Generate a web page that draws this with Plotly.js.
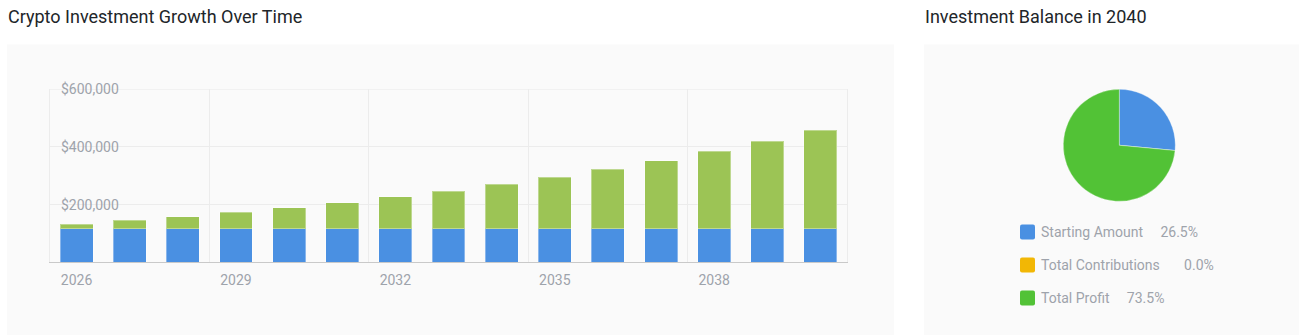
<!DOCTYPE html>
<html>
<head>
<meta charset="utf-8">
<script src="https://cdn.plot.ly/plotly-3.0.1.min.js"></script>
<style>
  html, body { margin: 0; padding: 0; background: #ffffff; }
  #chart { width: 1299px; height: 335px; }
</style>
</head>
<body>
<div id="chart"></div>
<script>
// ---- data ----
const years = ['2026','2027','2028','2029','2030','2031','2032','2033','2034','2035','2036','2037','2038','2039','2040'];
const startingAmount = [116500,116500,116500,116500,116500,116500,116500,116500,116500,116500,116500,116500,116500,116500,116500];
const totalProfit = [16300,29100,41700,56900,72900,90200,110000,130800,154000,178300,206000,235900,268500,304200,342300];
const yTickVals = [200000, 400000, 600000];
const yTickText = ['$200,000', '$400,000', '$600,000'];

const pieLabels = ['Starting Amount', 'Total Contributions', 'Total Profit'];
const pieShares = [26.5, 0.0, 73.5];

// ---- styling ----
const W = 1299, H = 335;
const FONT = 'Roboto, "Noto Sans", Arial, sans-serif';
const GREY = '#9ea3ab';
const GRID = '#ececec';
const BLUE = '#4a90e2';
const BAR_GREEN = '#9cc455';
const PIE_GREEN = '#52c236';
const YELLOW = '#f2b705';
const pieColors = [BLUE, YELLOW, PIE_GREEN];

const px = x => x / W;
const py = y => (H - y) / H;

const traces = [
  {
    type: 'bar', name: 'Starting Amount', x: years, y: startingAmount,
    marker: { color: BLUE, line: { color: 'rgba(255,255,255,0.35)', width: 1 } },
    xaxis: 'x', yaxis: 'y', hoverinfo: 'none'
  },
  {
    type: 'bar', name: 'Total Profit', x: years, y: totalProfit,
    marker: { color: BAR_GREEN, line: { color: 'rgba(255,255,255,0.35)', width: 1 } },
    xaxis: 'x', yaxis: 'y', hoverinfo: 'none'
  },
  {
    type: 'pie', labels: pieLabels, values: pieShares,
    marker: { colors: pieColors, line: { color: 'rgba(255,255,255,0.6)', width: 0.5 } },
    sort: false, direction: 'clockwise', rotation: 0,
    textinfo: 'none', hoverinfo: 'none', showlegend: false,
    domain: { x: [px(1063.3), px(1175.3)], y: [py(201.3), py(89.3)] }
  }
];

const shapes = [
  { type: 'rect', xref: 'paper', yref: 'paper', x0: px(7), x1: px(894), y0: py(345), y1: py(44.5),
    fillcolor: '#fafafa', line: { width: 0 }, layer: 'below' },
  { type: 'rect', xref: 'paper', yref: 'paper', x0: px(924), x1: px(1300), y0: py(345), y1: py(44.5),
    fillcolor: '#fafafa', line: { width: 0 }, layer: 'below' },
  // top grid line at the max of the y range
  { type: 'line', xref: 'x domain', yref: 'y', x0: 0, x1: 1, y0: yTickVals[yTickVals.length - 1], y1: yTickVals[yTickVals.length - 1],
    line: { color: GRID, width: 1 }, layer: 'below' }
];
const annotations = [
  { xref: 'paper', yref: 'paper', x: px(6), y: py(16), xanchor: 'left', yanchor: 'middle',
    text: 'Crypto Investment Growth Over Time', showarrow: false,
    font: { family: FONT, size: 18, color: '#212529' } },
  { xref: 'paper', yref: 'paper', x: px(923), y: py(16), xanchor: 'left', yanchor: 'middle',
    text: 'Investment Balance in 2040', showarrow: false,
    font: { family: FONT, size: 18, color: '#212529' } }
];
// y tick labels drawn inside the plot, on the grid lines
yTickVals.forEach((v, i) => {
  annotations.push({ xref: 'paper', yref: 'y', x: px(59), y: v, xanchor: 'left', yanchor: 'middle',
    showarrow: false, text: yTickText[i], font: { family: FONT, size: 14, color: GREY } });
});
// custom legend for the pie
const nbspGaps = [5, 7, 5];
pieLabels.forEach((lab, i) => {
  const cy = 232 + 33 * i;
  const x0 = 1020, x1 = 1035, y0 = cy - 7.5, y1 = cy + 7.5, r = 2;
  const X = v => px(v), Y = v => py(v);
  const path = `M${X(x0 + r)},${Y(y0)} L${X(x1 - r)},${Y(y0)} Q${X(x1)},${Y(y0)} ${X(x1)},${Y(y0 + r)} ` +
    `L${X(x1)},${Y(y1 - r)} Q${X(x1)},${Y(y1)} ${X(x1 - r)},${Y(y1)} L${X(x0 + r)},${Y(y1)} ` +
    `Q${X(x0)},${Y(y1)} ${X(x0)},${Y(y1 - r)} L${X(x0)},${Y(y0 + r)} Q${X(x0)},${Y(y0)} ${X(x0 + r)},${Y(y0)} Z`;
  shapes.push({ type: 'path', xref: 'paper', yref: 'paper', path: path,
    fillcolor: pieColors[i], line: { width: 0 } });
  annotations.push({ xref: 'paper', yref: 'paper', x: px(1039), y: py(cy), xanchor: 'left', yanchor: 'middle',
    showarrow: false,
    text: lab + '\u00a0'.repeat(nbspGaps[i]) + pieShares[i].toFixed(1) + '%',
    font: { family: FONT, size: 14, color: GREY } });
});

const layout = {
  width: W, height: H,
  margin: { l: 0, r: 0, t: 0, b: 0 },
  paper_bgcolor: '#ffffff',
  plot_bgcolor: '#fdfdfd',
  showlegend: false,
  barmode: 'stack',
  bargap: 0.38,
  font: { family: FONT, size: 14, color: GREY },
  xaxis: {
    type: 'category',
    domain: [px(50), px(847)],
    range: [-0.5, years.length - 0.5],
    autorange: false,
    tickmode: 'linear', tick0: 0, dtick: 3,
    tickson: 'boundaries',
    ticks: '', showgrid: true, gridcolor: GRID, gridwidth: 1,
    showline: true, linecolor: '#c9c9c9', linewidth: 1,
    ticklabelstandoff: 5,
    tickfont: { family: FONT, size: 14, color: GREY },
    automargin: false,
    fixedrange: true
  },
  yaxis: {
    domain: [py(262.3), py(89.3)],
    range: [0, 600000],
    autorange: false,
    tickmode: 'array', tickvals: yTickVals,
    showticklabels: false,
    ticks: '', showgrid: true, gridcolor: GRID, gridwidth: 1,
    zeroline: false,
    showline: true, linecolor: GRID, linewidth: 1, mirror: true,
    automargin: false,
    fixedrange: true
  },
  shapes: shapes,
  annotations: annotations
};

Plotly.newPlot('chart', traces, layout, { staticPlot: true, displayModeBar: false });
</script>
</body>
</html>
